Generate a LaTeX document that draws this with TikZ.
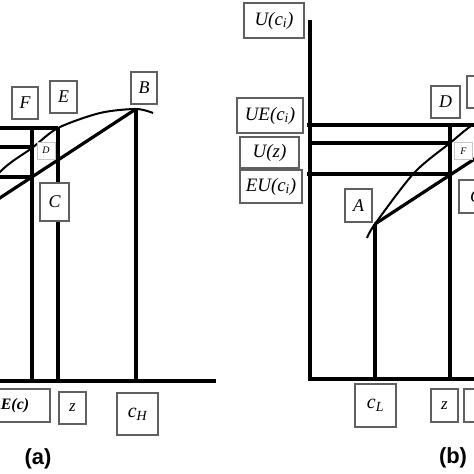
\documentclass[tikz,border=0pt]{standalone}
\usepackage{fontspec}
\setmainfont{Liberation Serif}
\newfontfamily\panelfont{Liberation Sans}
\begin{document}
\begin{tikzpicture}[x=1bp, y=-1bp,
	thk/.style={line width=3.2bp},
	crv/.style={line width=2bp},
	lbl/.style={draw=gray!75!black, line width=1.1bp, fill=white, inner sep=0pt, font=\itshape\fontsize{18}{18}\selectfont},
	tinybox/.style={draw=gray!45, line width=0.9bp, fill=white, inner sep=0pt, minimum width=18bp, minimum height=17bp, font=\itshape\fontsize{10}{10}\selectfont},
	axlbl/.style={lbl, font=\itshape\fontsize{17}{17}\selectfont},
	panel/.style={font=\panelfont\bfseries\fontsize{22}{22}\selectfont}]
	\useasboundingbox (0,0) rectangle (474,474);
	\clip (0,0) rectangle (474,474);

	% panel (a)
	\coordinate (aA) at (-40,224);
	\coordinate (aB) at (136,109);
	\draw [thk] (-10,381) -- (216,381);
	\draw [thk] (-10,128) -- (58,128);
	\draw [thk] (-10,147) -- (32,147);
	\draw [thk] (-10,177) -- (32,177);
	\draw [thk] (32,128) -- (32,381);
	\draw [thk] (58,128) -- (58,383);
	\draw [thk] (aB) -- (136,381);
	\draw [thk] (aA) -- (aB);
	\draw [crv] plot [smooth] coordinates {(aA) (0,172) (32,148) (58,128) (100,113) (aB) (153,113)};

	\node [lbl, minimum width=26bp, minimum height=32bp] (aF) at (25,103) {F};
	\node [lbl, minimum width=27bp, minimum height=32bp] (aE) at (63.5,97) {E};
	\node [lbl, minimum width=26bp, minimum height=32bp] (aBlbl) at (144,88) {B};
	\node [tinybox] (aD) at (46,150.5) {D};
	\node [lbl, minimum width=29bp, minimum height=38bp] (aC) at (54.5,202) {C};
	\node [lbl, minimum width=70bp, minimum height=33bp, font=\bfseries\itshape\fontsize{16}{16}\selectfont] (aEc) at (15,405.5) {E(c)};
	\node [axlbl, minimum width=27bp, minimum height=32bp] (az) at (72.5,408) {z};
	\node [axlbl, minimum width=41bp, minimum height=42bp, font=\itshape\fontsize{20}{20}\selectfont] (acH) at (137.5,414) {c\textsubscript{H}};
	\node [panel] (pa) at (38,459) {(a)};

	% panel (b)
	\coordinate (bA) at (375,224);
	\coordinate (bB) at (551,109);
	\draw [thk] (310,20) -- (310,379) -- (490,379);
	\draw [thk] (307,125) -- (490,125);
	\draw [thk] (310,143) -- (450,143);
	\draw [thk] (307,174) -- (450,174);
	\draw [thk] (450,125) -- (450,379);
	\draw [thk] (bA) -- (375,381);
	\draw [thk] (bA) -- (bB);
	\draw [crv] plot [smooth] coordinates {(367,238) (bA) (414,173) (450,143) (474,124) (500,113)};

	\node [axlbl, minimum width=60bp, minimum height=35bp, font=\itshape\fontsize{19}{19}\selectfont] (bU) at (274,20.5) {U(c\textsubscript{i})};
	\node [axlbl, minimum width=66bp, minimum height=35bp, font=\itshape\fontsize{19}{19}\selectfont] (bUE) at (270,115.5) {UE(c\textsubscript{i})};
	\node [axlbl, minimum width=59bp, minimum height=31bp, font=\itshape\fontsize{19}{19}\selectfont] (bUz) at (269.5,152.5) {U(z)};
	\node [axlbl, minimum width=62bp, minimum height=33bp, font=\itshape\fontsize{19}{19}\selectfont] (bEU) at (271,186.5) {EU(c\textsubscript{i})};
	\node [lbl, minimum width=27bp, minimum height=33bp] (bAlbl) at (358.5,205.5) {A};
	\node [lbl, minimum width=29bp, minimum height=32bp] (bD) at (445.5,102) {D};
	\node [lbl, minimum width=30bp, minimum height=32bp] (bE) at (482,92) {E};
	\node [tinybox] (bF) at (463.5,151) {F};
	\node [lbl, minimum width=34bp, minimum height=33bp] (bC) at (476,196.5) {C};
	\node [axlbl, minimum width=41bp, minimum height=43bp, font=\itshape\fontsize{20}{20}\selectfont] (bcL) at (375.5,405.5) {c\textsubscript{L}};
	\node [axlbl, minimum width=27bp, minimum height=33bp] (bz) at (444.5,405.5) {z};
	\node [lbl, minimum width=70bp, minimum height=33bp, font=\bfseries\itshape\fontsize{16}{16}\selectfont] (bEc) at (499,405.5) {E(c)};
	\node [panel] (pb) at (453,458) {(b)};
\end{tikzpicture}
\end{document}
